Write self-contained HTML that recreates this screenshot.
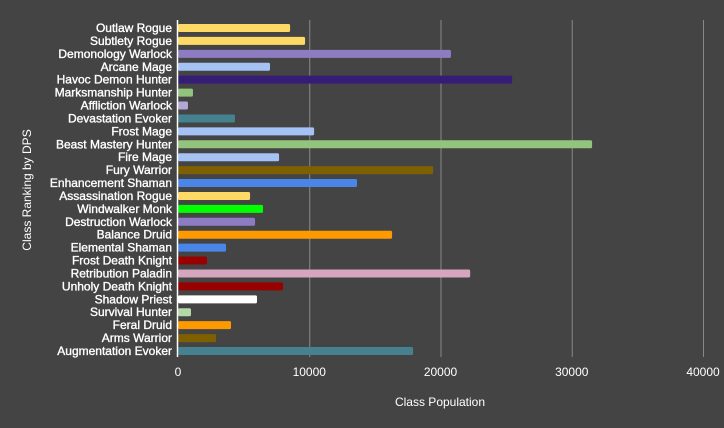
<!DOCTYPE html>
<html><head><meta charset="utf-8"><style>
html,body{margin:0;padding:0;background:#444;}
svg{display:block;font-family:"Liberation Sans",Arial,sans-serif;}
</style></head><body>
<svg id="chart" width="724" height="428">
<rect width="724" height="428" fill="#444444"/>
<g id="grid"></g><g id="bars"></g><g id="labels"></g><g id="ticks"></g>
<line x1="177.5" y1="20" x2="177.5" y2="357" stroke="#ffffff" stroke-width="1.5"/>
<text x="440" y="406" fill="#ffffff" font-size="12" text-anchor="middle">Class Population</text>
<text transform="translate(31,190) rotate(-90)" fill="#ffffff" font-size="12" text-anchor="middle">Class Ranking by DPS</text>
</svg>
<script>
const categories=["Outlaw Rogue","Subtlety Rogue","Demonology Warlock","Arcane Mage","Havoc Demon Hunter","Marksmanship Hunter","Affliction Warlock","Devastation Evoker","Frost Mage","Beast Mastery Hunter","Fire Mage","Fury Warrior","Enhancement Shaman","Assassination Rogue","Windwalker Monk","Destruction Warlock","Balance Druid","Elemental Shaman","Frost Death Knight","Retribution Paladin","Unholy Death Knight","Shadow Priest","Survival Hunter","Feral Druid","Arms Warrior","Augmentation Evoker"];
const values=[8540,9680,20800,7010,25460,1140,760,4340,10370,31550,7700,19440,13640,5490,6480,5870,16310,3660,2210,22260,8000,6020,990,4040,2900,17910];
const colors=["#ffd966","#ffd966","#8e7cc3","#a4c2f4","#351c75","#93c47d","#b4a7d6","#45818e","#a4c2f4","#93c47d","#a4c2f4","#7f6000","#4a86e8","#ffd966","#00ff00","#8e7cc3","#ff9900","#4a86e8","#990000","#d5a6bd","#990000","#ffffff","#b6d7a8","#ff9900","#7f6000","#45818e"];
const tickValues=[0,10000,20000,30000,40000];
const tickLabels=["0","10000","20000","30000","40000"];
const NS="http://www.w3.org/2000/svg";
const x0=178,x1=703,xMax=40000;
function xs(v){return x0+v/xMax*(x1-x0);}
const yTop=28,yStep=(351-28)/25;
function ys(i){return yTop+i*yStep;}
function mk(t,a,p){const e=document.createElementNS(NS,t);for(const k in a)e.setAttribute(k,a[k]);p.appendChild(e);return e;}
const grid=document.getElementById('grid'),bars=document.getElementById('bars'),labels=document.getElementById('labels'),ticks=document.getElementById('ticks');
tickValues.forEach((v,i)=>{
  if(v>0){const g=mk('line',{x1:xs(v)+0.5,x2:xs(v)+0.5,y1:20,y2:357,stroke:'#888',"stroke-width":1},grid);
  
  }
  const t=mk('text',{x:xs(v),y:376,fill:'#fff',"font-size":12,"text-anchor":"middle"},ticks);
  t.textContent=tickLabels[i];
  
  
});
categories.forEach((c,i)=>{
  const y=ys(i);
  const r=mk('rect',{x:x0,y:y-4,width:Math.max(0,xs(values[i])-x0),height:8,rx:1.5,fill:colors[i]},bars);
  
  
  const t=mk('text',{x:172,y:y+4,fill:'#fff',stroke:'#fff',"stroke-width":0.35,"font-size":12,"text-anchor":"end"},labels);
  t.textContent=c;
  
  
});
</script>
</body></html>
